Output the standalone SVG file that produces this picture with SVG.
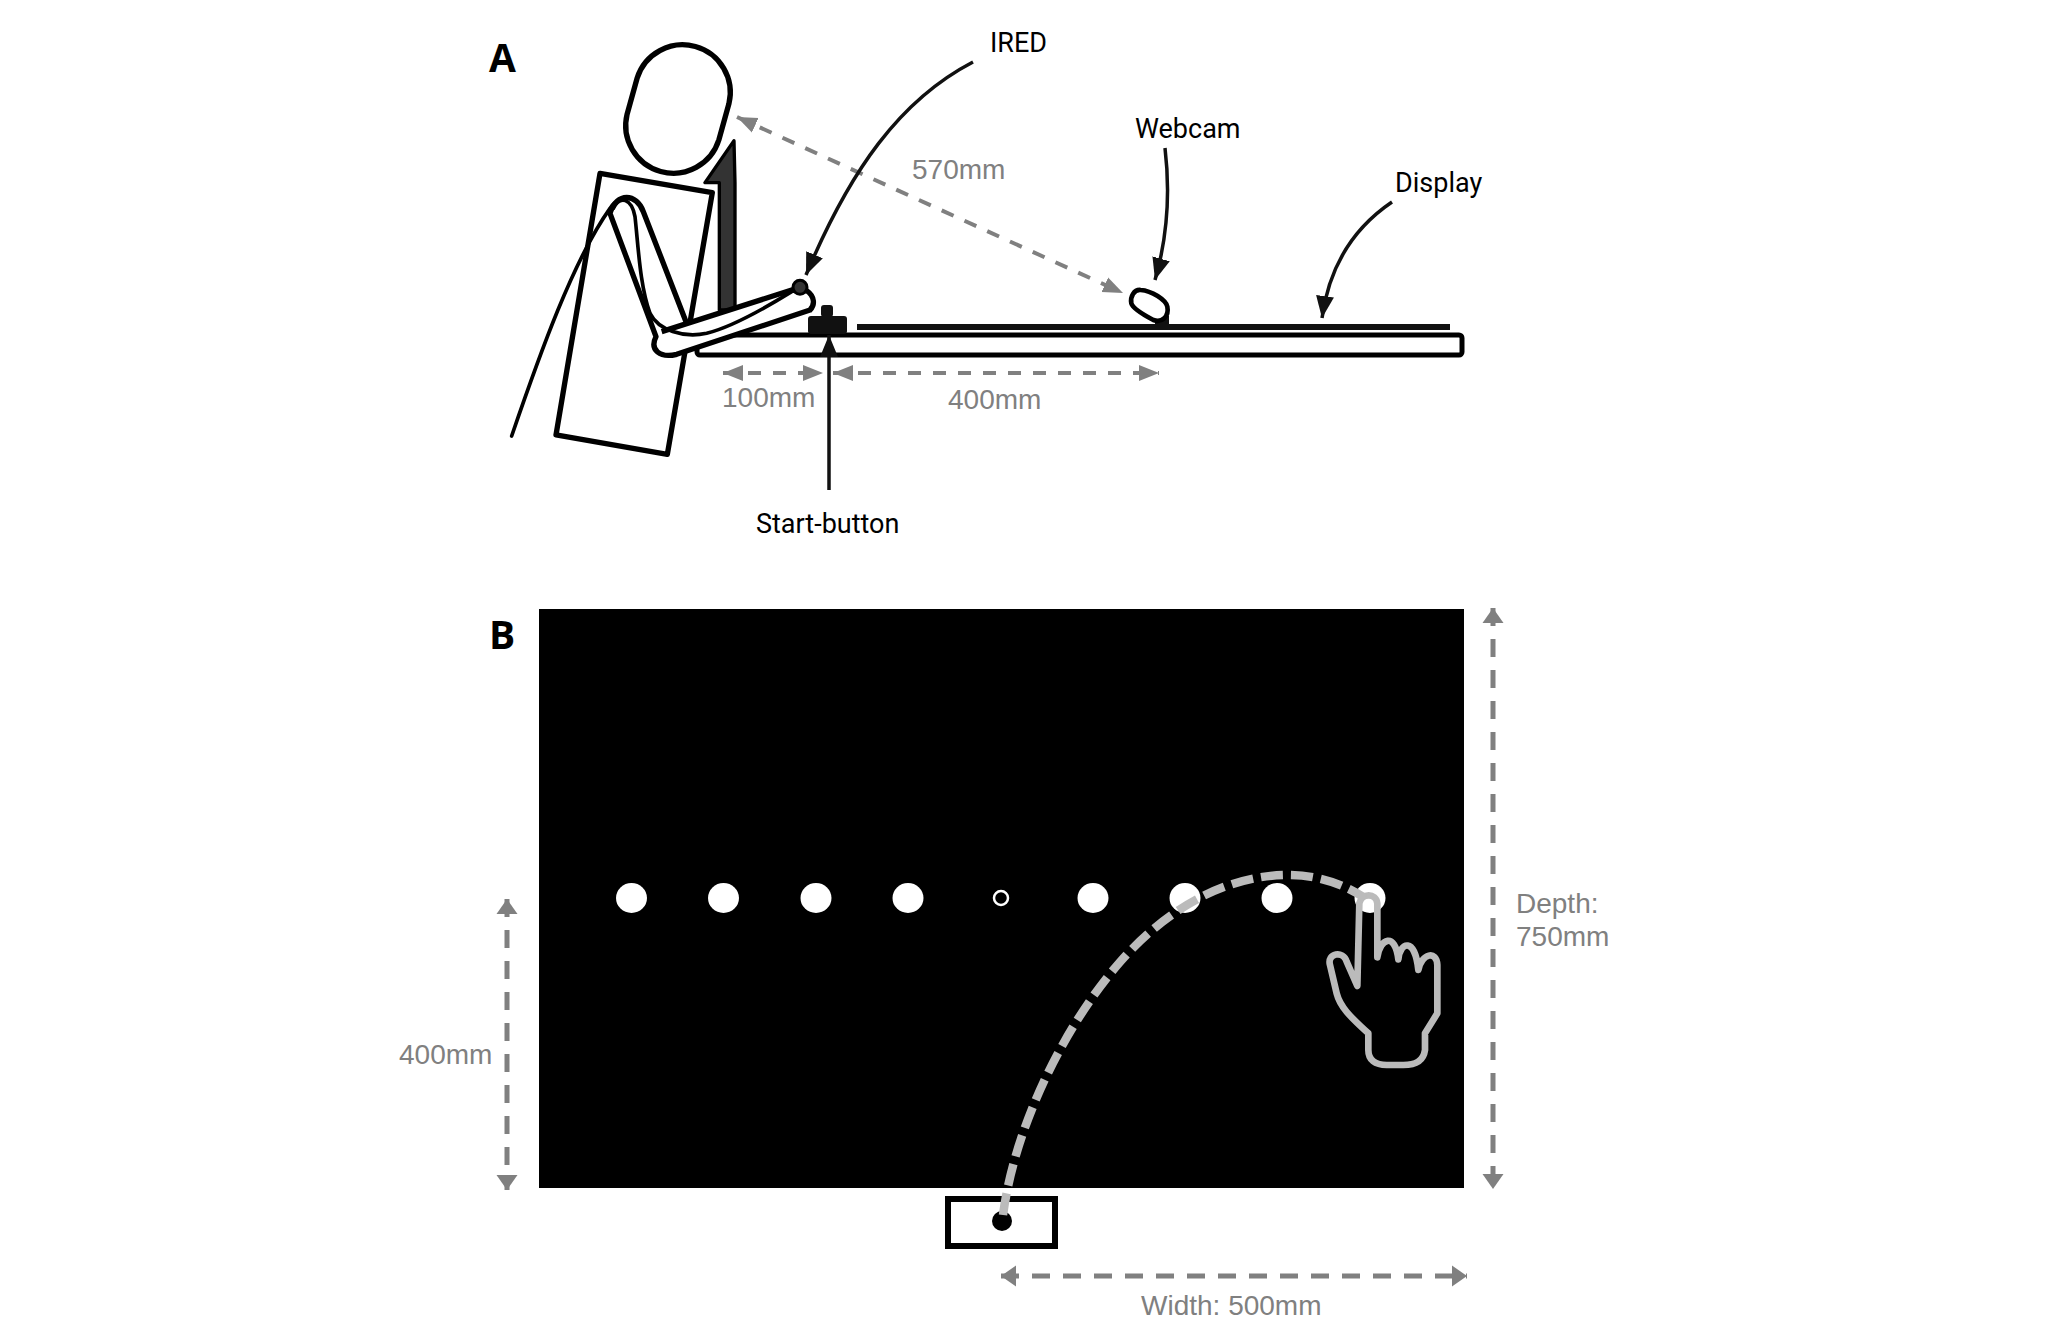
<svg xmlns="http://www.w3.org/2000/svg" width="2066" height="1332" viewBox="0 0 2066 1332">
<style>
text{font-family:Roboto,"Liberation Sans",sans-serif;font-size:27px;fill:#000}
text.g{font-family:"Liberation Sans",Arial,sans-serif;font-size:28px;fill:#808080}
text.h{font-family:"Open Sans","Liberation Sans",sans-serif;font-weight:700;font-size:39px}
.dim{fill:none;stroke:#808080;stroke-width:5;stroke-dasharray:18 13;marker-start:url(#ga);marker-end:url(#ga)}
.thin{stroke-width:4;stroke-dasharray:13 12;marker-start:url(#gt);marker-end:url(#gt)}
.call{fill:none;stroke:#111;stroke-width:3.5;marker-end:url(#ba)}
.o{fill:#fff;stroke:#000;stroke-width:16;stroke-linejoin:round}
.l{fill:none;stroke:#000;stroke-width:11;stroke-linecap:round}
.dot{fill:#fff}
</style>
<defs>
<marker id="ga" markerUnits="userSpaceOnUse" markerWidth="16" markerHeight="24" viewBox="0 0 16 24" refX="15" refY="12" orient="auto-start-reverse"><path d="M0 1.500L15 12L0 22.500Z" fill="#808080"/></marker>
<marker id="gt" markerUnits="userSpaceOnUse" markerWidth="22" markerHeight="20" viewBox="0 0 22 20" refX="20" refY="10" orient="auto-start-reverse"><path d="M0 2L20 10L0 18Z" fill="#808080"/></marker>
<marker id="ba" markerUnits="userSpaceOnUse" markerWidth="24" markerHeight="22" viewBox="0 0 24 22" refX="22" refY="11" orient="auto"><path d="M0 2L22 11L0 20Z" fill="#111"/></marker>
</defs>
<rect width="2066" height="1332" fill="#fff"/>

<g id="panel-a-label"><text class="h" x="489" y="72">A</text></g>
<g id="panel-b-label"><text class="h" x="489" y="649">B</text></g>

<g id="table"><rect x="697" y="335" width="765" height="20" rx="3" fill="#fff" stroke="#000" stroke-width="5"/></g>
<g id="display"><rect x="857" y="324" width="593" height="6" fill="#111"/></g>
<g id="webcam">
<rect x="1155" y="316" width="14" height="11" fill="#111"/>
<g transform="translate(1110 270) scale(.33333)"><path d="M92 60C72 58 60 80 64 100C68 114 100 134 130 150C155 160 178 140 172 110C168 90 125 62 92 60Z" fill="#fff" stroke="#000" stroke-width="14"/></g>
</g>
<g id="start-button">
<rect x="808" y="316" width="39" height="18" rx="3" fill="#111"/>
<rect x="821" y="305" width="12" height="12" rx="3" fill="#111"/>
</g>

<g id="person" transform="translate(480 20) scale(.33333)">
<path d="M762 362L675 488H718V870H765V488Z" fill="#333" stroke="#000" stroke-width="10" stroke-linejoin="round"/>
<path class="o" d="M746.700 251.300A143 143 0 0 0 471.300 174.700L441.300 282.700A143 143 0 0 0 716.700 359.300Z"/>
<path class="o" d="M360 460L697 518L562 1303L228 1245Z"/>
<path class="l" d="M95 1248C180 1000 280 720 390 565C405 540 440 525 465 560"/>
<path class="o" stroke-width="14" d="M618 905L490 575C470 520 410 515 390 580L528 950C508 990 540 1015 590 1003L990 870C1005 855 1005 830 980 812L935 810L545 935"/>
<path class="l" d="M400 565C420 525 455 535 465 590C475 680 480 800 510 880C535 930 610 955 680 940C740 925 830 880 935 815"/>
<circle cx="960" cy="802" r="21" fill="#333" stroke="#000" stroke-width="9"/>
</g>

<g id="screen">
<rect x="539" y="609" width="925" height="579" fill="#000"/>
<g id="targets">
<ellipse class="dot" cx="631.500" cy="898" rx="15.500" ry="15"/>
<ellipse class="dot" cx="723.500" cy="898" rx="15.500" ry="15"/>
<ellipse class="dot" cx="816" cy="898" rx="15.500" ry="15"/>
<ellipse class="dot" cx="908" cy="898" rx="15.500" ry="15"/>
<circle cx="1001" cy="898" r="7" fill="#000" stroke="#fff" stroke-width="2.500"/>
<ellipse class="dot" cx="1093" cy="898" rx="15.500" ry="15"/>
<ellipse class="dot" cx="1185" cy="898" rx="15.500" ry="15"/>
<ellipse class="dot" cx="1277" cy="898" rx="15.500" ry="15"/>
<ellipse class="dot" cx="1370" cy="898" rx="15.500" ry="15"/>
</g>
</g>
<g id="start-box">
<rect x="948" y="1199" width="107" height="47" fill="#fff" stroke="#000" stroke-width="6"/>
<circle cx="1002" cy="1221" r="10" fill="#000"/>
</g>

<g id="hand" transform="translate(1150 860) scale(.33333)">
<path d="M622 378L628 130C635 98 678 98 682 130L682 292C690 235 735 215 745 298C750 245 795 230 805 330C815 280 860 270 862 315L862 460L825 520L825 570C820 605 795 615 760 615L710 615C675 615 655 600 655 570L655 520C600 470 570 440 560 400L540 315C530 280 580 270 590 305Z" fill="none" stroke="#bbb" stroke-width="20" stroke-linejoin="round" stroke-linecap="round"/>
</g>

<g id="connectors">
<path fill="none" stroke="#bbb" stroke-width="8.500" stroke-dasharray="22 8" d="M1003 1215C1015 1125 1065 1025 1120 962C1170 905 1230 875 1288 875C1320 875 1345 885 1365 898"/>
<path class="dim thin" d="M737 117L1123 293"/>
<path class="dim thin" d="M723 373H823"/>
<path class="dim thin" d="M833 373H1159"/>
<path class="dim" d="M1493 608V1189"/>
<path class="dim" d="M507 899V1190"/>
<path class="dim" d="M1001 1276H1467"/>
<path class="call" d="M973 62C900 100 850 170 806 275"/>
<path class="call" d="M1165 148C1170 190 1168 235 1155 280"/>
<path class="call" d="M1392 202C1358 225 1330 260 1322 318"/>
<path class="call" d="M829 490V335"/>
</g>

<g id="labels">
<text x="990" y="52">IRED</text>
<text x="1135" y="138">Webcam</text>
<text x="1395" y="192">Display</text>
<text x="756" y="533">Start-button</text>
<text class="g" x="912" y="179">570mm</text>
<text class="g" x="722" y="407">100mm</text>
<text class="g" x="948" y="409">400mm</text>
<text class="g" x="399" y="1064">400mm</text>
<text class="g" x="1516" y="913">Depth:</text>
<text class="g" x="1516" y="946">750mm</text>
<text class="g" x="1141" y="1315">Width: 500mm</text>
</g>
</svg>
